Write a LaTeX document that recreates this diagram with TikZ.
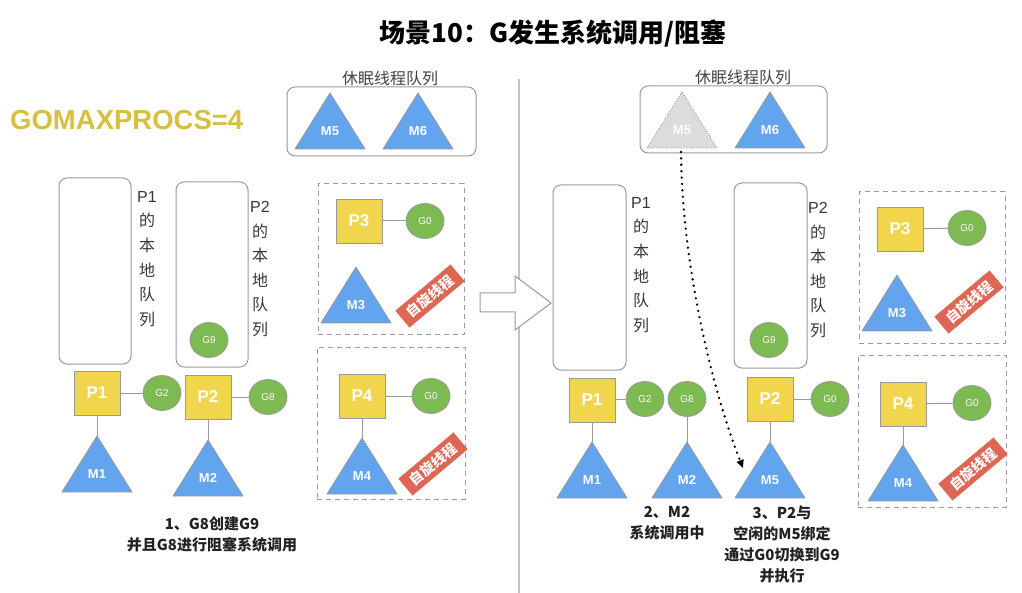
\documentclass[tikz,border=0pt]{standalone}
\usepackage{fontspec}
\setmainfont{Liberation Sans}
\newfontfamily\cjk{Noto Sans CJK SC}
\usetikzlibrary{arrows.meta,shapes.geometric}
\definecolor{py}{HTML}{F1D54C}
\definecolor{gg}{HTML}{7DBA52}
\definecolor{mb}{HTML}{62A5EE}
\definecolor{rl}{HTML}{DD6655}
\definecolor{gold}{HTML}{D8BF3F}
\definecolor{ln}{HTML}{9A9A9A}
\definecolor{txt}{HTML}{222222}
\newcommand{\mtri}[4]{%
  \coordinate (#1) at (#2,#3);
  \path[tri] (#1) -- ++(-35,56) -- ++(70,0) -- cycle;
  \node[mtext] (#1-t) at (#2,#3+38) {#4};}
\begin{document}
\begin{tikzpicture}[x=1pt,y=-1pt,
  pbox/.style={draw=ln, fill=py, minimum width=46pt, minimum height=44pt, inner sep=0pt, text=white, font=\fontsize{17}{17}\selectfont\bfseries, line width=0.8pt},
  gcirc/.style={ellipse, draw=ln, fill=gg, minimum width=38pt, minimum height=35pt, inner sep=0pt, text=white, font=\fontsize{10}{10}\selectfont, line width=0.8pt},
  queue/.style={draw=ln, rounded corners=8pt, line width=1pt, inner sep=0pt},
  dbox/.style={draw=ln, dash pattern=on 5pt off 4pt, line width=1pt, inner sep=0pt},
  link/.style={draw=ln, line width=1pt},
  tri/.style={draw=ln, fill=mb, line width=0.8pt, line join=round},
  mtext/.style={text=white, font=\fontsize{13}{13}\selectfont\bfseries},
  spin/.style={fill=rl, text=white, font=\cjk\fontsize{14}{14}\selectfont\bfseries, rotate=40, minimum width=72pt, minimum height=22pt, inner sep=0pt},
  vlabel/.style={align=center, text=txt!90, font=\cjk\fontsize{16}{24.6}\selectfont, inner sep=0pt},
  sleeplabel/.style={text=txt!85, font=\cjk\fontsize{16}{16}\selectfont, inner sep=0pt},
  caption/.style={align=center, text=txt, font=\cjk\fontsize{15}{21}\selectfont\bfseries, inner sep=0pt},
  dotarrow/.style={line width=2.6pt, dash pattern=on 0pt off 6.4pt, line cap=round, -{Triangle[length=8pt,width=7pt]}}
]
\useasboundingbox[fill=white] (0,0) rectangle (1022,593);

% title
\node[font=\cjk\fontsize{26}{26}\selectfont\bfseries, text=black] (title) at (553,34) {场景10：G发生系统调用/阻塞};

% divider
\draw[draw=ln!60, line width=1.5pt] (519,79) -- (519,593);

% big hollow arrow
\draw[draw=ln, fill=white, line width=1pt, line join=miter] (480,293) -- (515,293) -- (515,276) -- (551,303) -- (515,330) -- (515,312) -- (480,312) -- cycle;

%================ LEFT PANEL ================
\node[font=\fontsize{27.5}{27.5}\selectfont\bfseries, text=gold, anchor=west, inner sep=0pt] (gomax) at (10,120) {GOMAXPROCS=4};

\node[sleeplabel] (sl1) at (390,78) {休眠线程队列};
\node[queue, minimum width=189pt, minimum height=69pt] (sb1) at (381.5,121.5) {};
\mtri{lm5s}{330}{93}{M5}
\mtri{lm6s}{418}{93}{M6}

\node[queue, minimum width=72pt, minimum height=186pt] (lq1) at (95,271) {};
\node[vlabel] (lq1l) at (147,259) {{\rmfamily P1}\\的\\本\\地\\队\\列};
\node[queue, minimum width=72pt, minimum height=185pt] (lq2) at (212,274.5) {};
\node[vlabel] (lq2l) at (260,269) {{\rmfamily P2}\\的\\本\\地\\队\\列};
\node[gcirc] (lg9) at (209,340) {G9};

\node[dbox, minimum width=146pt, minimum height=151pt] (ld3) at (391,259.5) {};
\node[dbox, minimum width=148pt, minimum height=152pt] (ld4) at (391,423) {};

\node[pbox] (lp1) at (97,393) {P1};
\node[gcirc] (lg2) at (162,393) {G2};
\mtri{lm1}{97}{436}{M1}
\node[pbox] (lp2) at (208,397) {P2};
\node[gcirc] (lg8) at (268,397) {G8};
\mtri{lm2}{208}{440}{M2}
\node[pbox] (lp3) at (359,221) {P3};
\node[gcirc] (lg03) at (425,221) {G0};
\mtri{lm3}{356}{267}{M3}
\node[spin] (lsp3) at (430,296) {自旋线程};
\node[pbox] (lp4) at (362,396) {P4};
\node[gcirc] (lg04) at (431,396) {G0};
\mtri{lm4}{362}{438}{M4}
\node[spin] (lsp4) at (433,464) {自旋线程};

\draw[link] (lp1) -- (lg2);
\draw[link] (lp1.south) -- (lm1);
\draw[link] (lp2) -- (lg8);
\draw[link] (lp2.south) -- (lm2);
\draw[link] (lp3) -- (lg03);
\draw[link] (lp4) -- (lg04);
\draw[link] (lp4.south) -- (lm4);

\node[caption] (lcap) at (212,534.5) {1、G8创建G9\\并且G8进行阻塞系统调用};

%================ RIGHT PANEL ================
\node[sleeplabel] (sl2) at (743,77) {休眠线程队列};
\node[queue, minimum width=187pt, minimum height=67pt] (sb2) at (733.5,119.5) {};
% grey M5 (now taken)
\coordinate (rm5g) at (682,92);
\path[draw=ln, fill=ln!35, line width=0.8pt, dash pattern=on 1pt off 1.5pt] (rm5g) -- ++(-35,56) -- ++(70,0) -- cycle;
\node[mtext] (rm5g-t) at (682,130) {M5};
\coordinate (rm5g-b) at (681,152);
\mtri{rm6s}{770}{92}{M6}

\node[queue, minimum width=73pt, minimum height=185pt] (rq1) at (589.5,277.5) {};
\node[vlabel] (rq1l) at (641,265) {{\rmfamily P1}\\的\\本\\地\\队\\列};
\node[queue, minimum width=73pt, minimum height=185pt] (rq2) at (770.5,275.5) {};
\node[vlabel] (rq2l) at (818,270) {{\rmfamily P2}\\的\\本\\地\\队\\列};
\node[gcirc] (rg9) at (769,340) {G9};

\node[dbox, minimum width=146pt, minimum height=151pt] (rd3) at (932,267.5) {};
\node[dbox, minimum width=148pt, minimum height=152pt] (rd4) at (932,431) {};

\node[pbox] (rp1) at (592,400) {P1};
\node[gcirc] (rg2) at (645,399) {G2};
\mtri{rm1}{592}{442}{M1}
\node[gcirc] (rg8) at (687,399) {G8};
\mtri{rm2}{687}{442}{M2}
\node[pbox] (rp2) at (770,399) {P2};
\node[gcirc] (rg0) at (830,399) {G0};
\mtri{rm5}{770}{442}{M5}
\node[pbox] (rp3) at (900,229) {P3};
\node[gcirc] (rg03) at (967,228) {G0};
\mtri{rm3}{897}{275}{M3}
\node[spin] (rsp3) at (969,302) {自旋线程};
\node[pbox] (rp4) at (903,404) {P4};
\node[gcirc] (rg04) at (972,403) {G0};
\mtri{rm4}{903}{445}{M4}
\node[spin] (rsp4) at (973,469) {自旋线程};

\draw[link] (rp1) -- (rg2);
\draw[link] (rp1.south) -- (rm1);
\draw[link] (rg8.south) -- (rm2);
\draw[link] (rp2) -- (rg0);
\draw[link] (rp2.south) -- (rm5);
\draw[link] (rp3) -- (rg03);
\draw[link] (rp4) -- (rg04);
\draw[link] (rp4.south) -- (rm4);

\coordinate (tipm5) at (743,468);
\draw[dotarrow] (rm5g-b) .. controls (682,262) and (711,387) .. (tipm5);

\node[caption] (rcap2) at (667,523.5) {2、M2\\系统调用中};
\node[caption] (rcap3) at (782,544.5) {3、P2与\\空闲的M5绑定\\通过G0切换到G9\\并执行};
\end{tikzpicture}
\end{document}
